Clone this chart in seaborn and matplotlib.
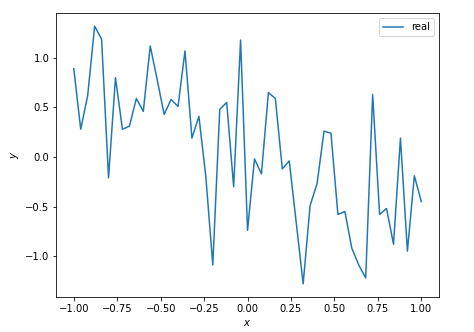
import numpy as np
import pandas as pd
import matplotlib
matplotlib.use("Agg")
import matplotlib.pyplot as plt
import seaborn as sns

x_values = np.linspace(-1, 1, 51)
y_values = [0.89, 0.28, 0.62, 1.32, 1.19, -0.21, 0.80, 0.28, 0.31, 0.59,
            0.46, 1.12, 0.78, 0.43, 0.58, 0.51, 1.07, 0.19, 0.41, -0.20,
            -1.09, 0.48, 0.55, -0.30, 1.18, -0.74, -0.02, -0.17, 0.65, 0.59,
            -0.12, -0.04, -0.66, -1.28, -0.49, -0.27, 0.26, 0.24, -0.58, -0.55,
            -0.92, -1.09, -1.22, 0.63, -0.58, -0.52, -0.88, 0.19, -0.95, -0.19,
            -0.45]
series_label = "real"

df = pd.DataFrame({"x": x_values, "y": y_values})

DPI = 72
fig = plt.figure(figsize=(474 / DPI, 332 / DPI), dpi=DPI)
ax = fig.add_axes([0.119, 0.1063, 0.8065, 0.8537])
sns.lineplot(data=df, x="x", y="y", ax=ax, color="#1f77b4", linewidth=1.5,
             label=series_label, estimator=None, sort=False)
ax.set_xlabel("$x$")
ax.set_ylabel("$y$")
ax.set_xticks([-1.0, -0.75, -0.5, -0.25, 0.0, 0.25, 0.5, 0.75, 1.0])
ax.set_yticks([-1.0, -0.5, 0.0, 0.5, 1.0])
ax.legend(loc="upper right")
fig.savefig("out.png", dpi=DPI)
